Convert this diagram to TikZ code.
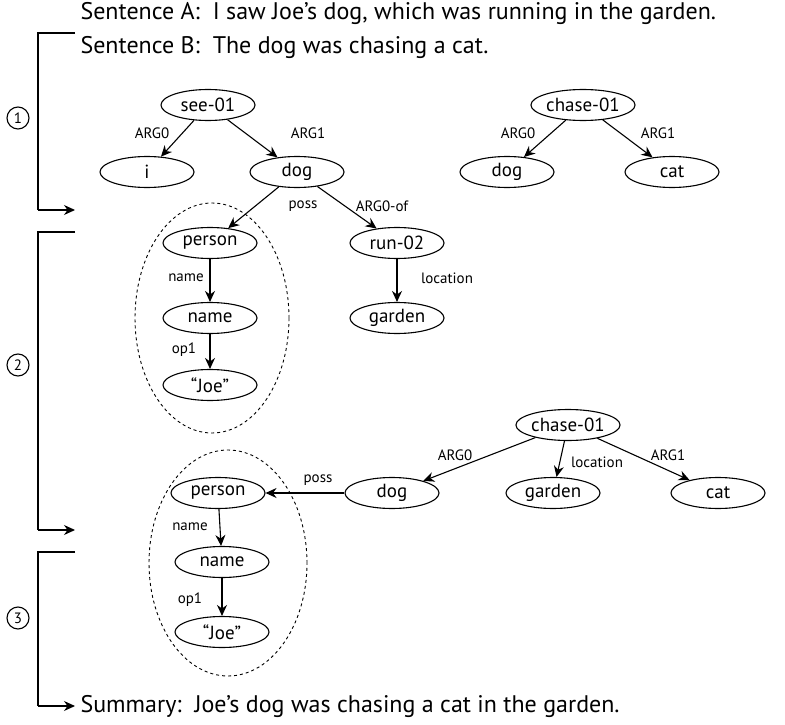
\documentclass[tikz,border=0pt]{standalone}
\usepackage{fontspec}
\setmainfont{PT Sans}
\usetikzlibrary{shapes.geometric,arrows.meta}
\begin{document}
\begin{tikzpicture}[x=1pt,y=-1pt,line width=1.1pt,
 e/.style={ellipse,draw,line width=1.1pt,minimum width=94,minimum height=31,inner sep=0,font=\fontsize{19}{19}\selectfont},
 ar/.style={-{Stealth[length=11pt,width=10pt]},line width=1.1pt},
 lb/.style={font=\fontsize{15}{15}\selectfont},
 big/.style={font=\fontsize{24}{24}\selectfont,anchor=west,inner sep=0},
 br/.style={line width=1.1pt},
 num/.style={circle,draw,minimum size=22,inner sep=0,font=\fontsize{15}{15}\selectfont}]
\useasboundingbox (0,0) rectangle (785,725);
\node[big] (sa) at (80,14) {Sentence A:\ \ I saw Joe’s dog, which was running in the garden.};
\node[big] (sb) at (80,48) {Sentence B:\ \ The dog was chasing a cat.};
\node[big] (sum) at (80,706) {Summary:\ \ Joe’s dog was chasing a cat in the garden.};
\coordinate (t1) at (75,33); \coordinate (b1) at (75,210);
\draw[br] (t1) -- (38,33) -- (38,210); \draw[ar] (38,210) -- (b1);
\coordinate (t2) at (75,232); \coordinate (b2) at (75,530);
\draw[br] (t2) -- (38,232) -- (38,530); \draw[ar] (38,530) -- (b2);
\coordinate (t3) at (75,552); \coordinate (b3) at (75,706);
\draw[br] (t3) -- (38,552) -- (38,706); \draw[ar] (38,706) -- (b3);
\node[num] (n1) at (18,118) {1};
\node[num] (n2) at (18,365) {2};
\node[num] (n3) at (18,618) {3};
\node[e] (see) at (208,105) {see-01};
\node[e] (i) at (147,172) {i};
\node[e] (dog) at (297,172) {dog};
\node[e] (chA) at (583,105) {chase-01};
\node[e] (dogB) at (507,172) {dog};
\node[e] (catB) at (672,172) {cat};
\node[e] (per) at (210,243) {person};
\node[e] (nam) at (210,318) {name};
\node[e] (joe) at (210,385) {“Joe”};
\node[e] (run) at (397,243) {run-02};
\node[e] (gar) at (397,318) {garden};
\node[ellipse,draw,dashed,line width=0.9pt,minimum width=154,minimum height=230] (d1) at (212,318) {};
\draw[ar] (see) -- (i); \draw[ar] (see) -- (dog);
\draw[ar] (chA) -- (dogB); \draw[ar] (chA) -- (catB);
\draw[ar] (dog) -- (per); \draw[ar] (dog) -- (run);
\draw[ar] (per) -- (nam); \draw[ar] (nam) -- (joe); \draw[ar] (run) -- (gar);
\node[lb] (l1) at (152,133) {ARG0};
\node[lb] (l2) at (308,133) {ARG1};
\node[lb] (l3) at (518,133) {ARG0};
\node[lb] (l4) at (658,133) {ARG1};
\node[lb] (l5) at (303,206) {poss};
\node[lb] (l6) at (382,206) {ARG0-of};
\node[lb] (l7) at (186,278) {name};
\node[lb] (l8) at (447,278) {location};
\node[lb] (l9) at (184,350) {op1};
\node[e] (chC) at (568,425) {chase-01};
\node[e] (dogC) at (392,493) {dog};
\node[e] (garC) at (553,493) {garden};
\node[e] (catC) at (718,493) {cat};
\node[e] (perC) at (218,493) {person};
\node[e] (namC) at (222,562) {name};
\node[e] (joeC) at (222,632) {“Joe”};
\node[ellipse,draw,dashed,line width=0.9pt,minimum width=158,minimum height=226] (d2) at (228,563) {};
\draw[ar] (chC) -- (dogC); \draw[ar] (chC) -- (garC); \draw[ar] (chC) -- (catC);
\draw[ar] (dogC) -- (perC); \draw[ar] (perC) -- (namC); \draw[ar] (namC) -- (joeC);
\node[lb] (m1) at (455,455) {ARG0};
\node[lb] (m2) at (597,462) {location};
\node[lb] (m3) at (668,455) {ARG1};
\node[lb] (m4) at (318,480) {poss};
\node[lb] (m5) at (190,527) {name};
\node[lb] (m6) at (190,600) {op1};
\end{tikzpicture}
\end{document}
